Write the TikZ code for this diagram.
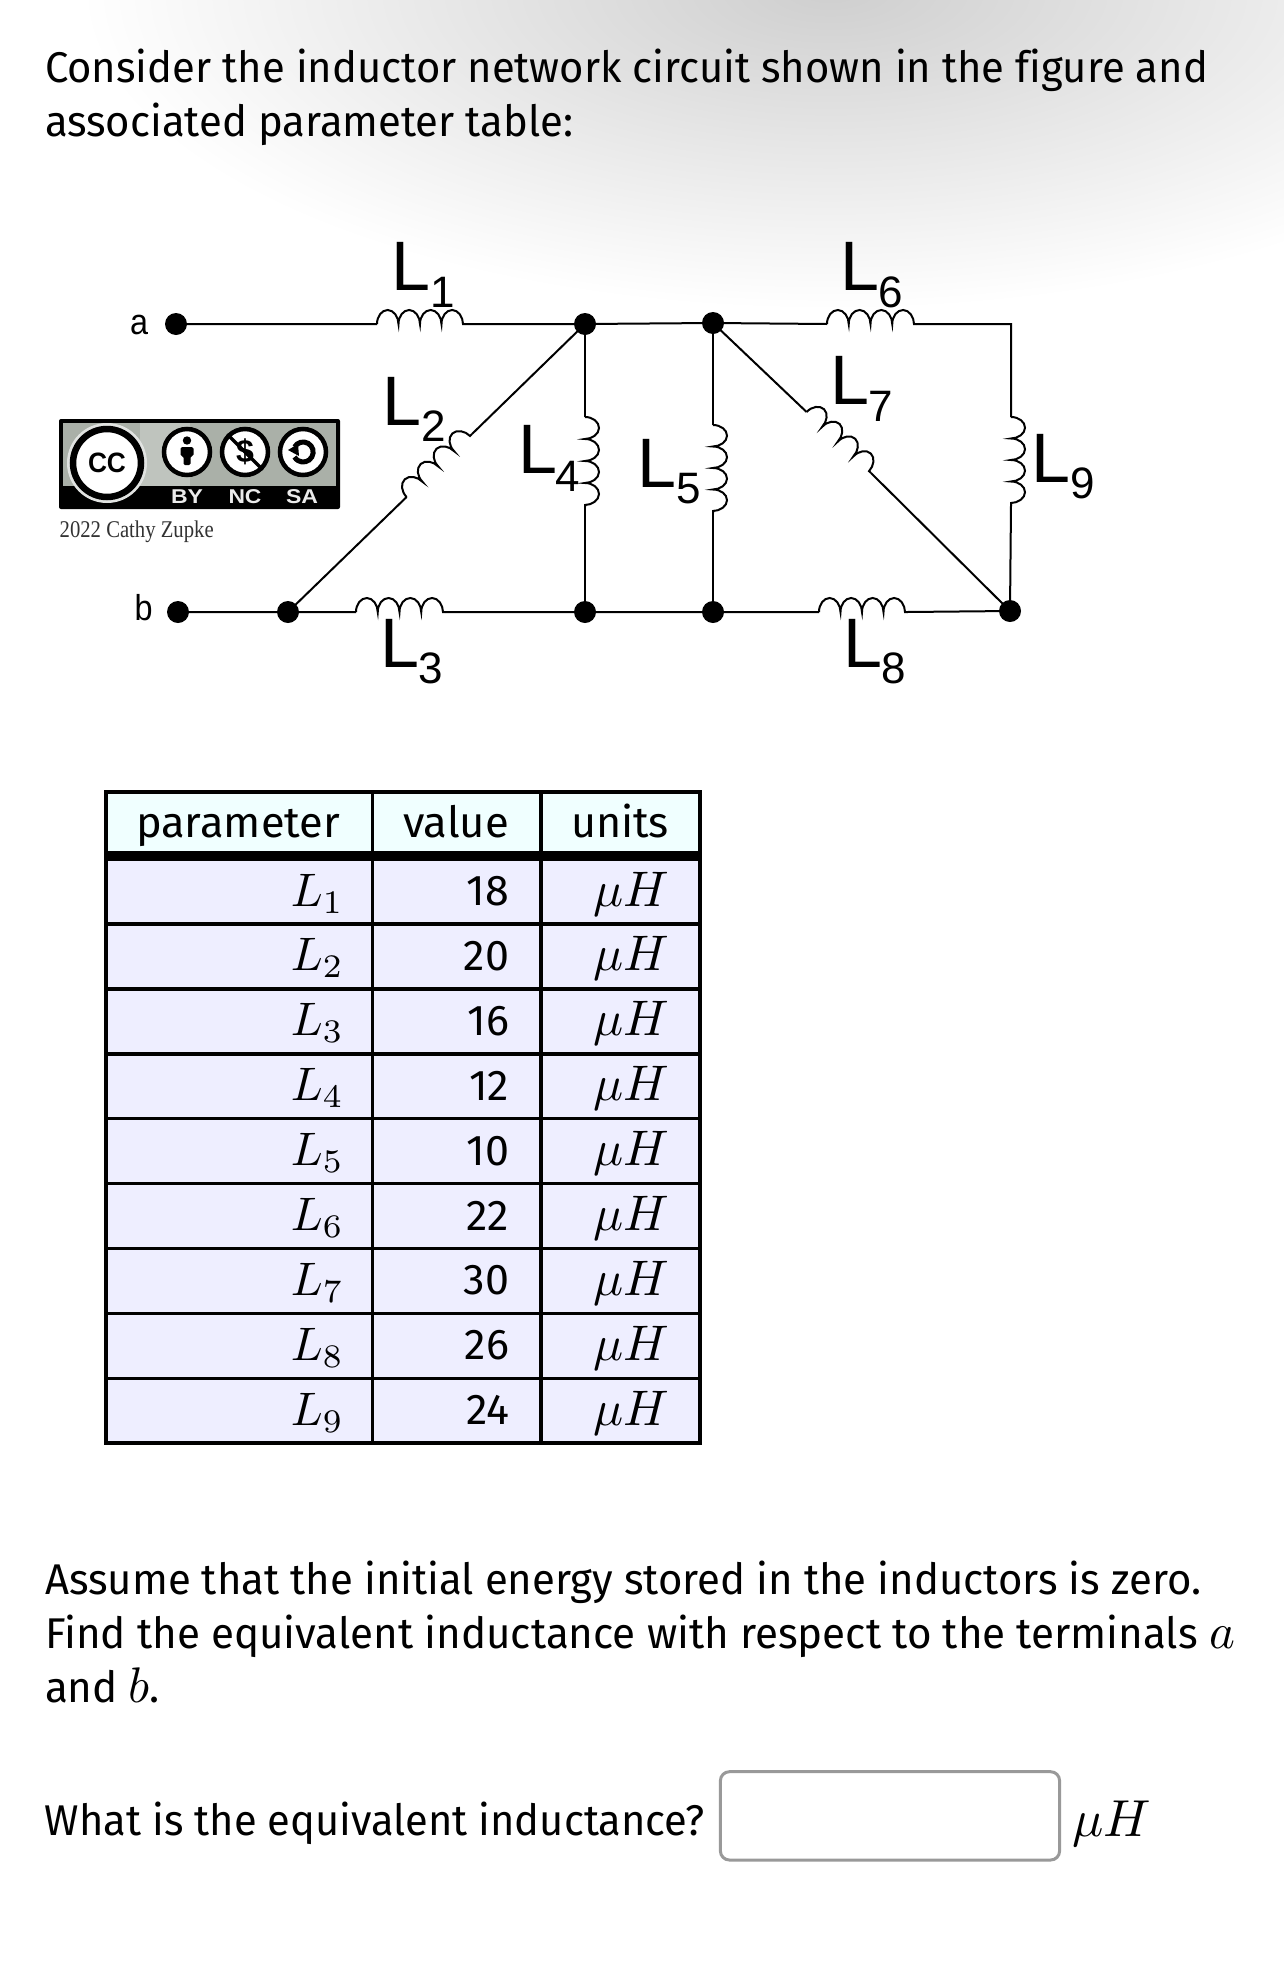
\RequirePackage{fix-cm}
\documentclass[tikz,border=0pt]{standalone}
\usepackage[no-math]{fontspec}
\usepackage{graphicx}
\setmainfont{Fira Sans}[Ligatures=NoCommon]
\newfontfamily\lblfont{Liberation Sans}
\newcommand{\lblboldfont}{\lblfont\bfseries}
\newfontfamily\serfont{Liberation Serif}
\usetikzlibrary{decorations.pathmorphing,calc}
\DeclareFontShape{OML}{cmm}{m}{it}{<->cmmi10}{}
\DeclareFontShape{OT1}{cmr}{m}{n}{<->cmr7}{}
\newcommand{\fitw}[2]{\resizebox{#1pt}{\height}{#2}}
\definecolor{hdrfill}{HTML}{F0FFFF}
\definecolor{rowfill}{HTML}{EEEEFF}
\definecolor{badgegray}{HTML}{AAB0A8}
\tikzset{
 txt/.style={anchor=base west,inner sep=0pt,outer sep=0pt,font=\fontsize{43}{54}\selectfont},
 rtxt/.style={anchor=base east,inner sep=0pt,outer sep=0pt,font=\fontsize{43}{54}\selectfont},
 mtxt/.style={anchor=base east,inner sep=0pt,outer sep=0pt,font=\fontsize{50}{54}\selectfont},
 ltxt/.style={anchor=base east,inner sep=0pt,outer sep=0pt,font=\fontsize{47}{54}\selectfont},
 lbl/.style={anchor=base west,inner sep=0pt,outer sep=0pt,font=\lblfont\fontsize{70}{70}\selectfont},
 sub/.style={anchor=base west,inner sep=0pt,outer sep=0pt,font=\lblfont\fontsize{44}{44}\selectfont},
 term/.style={anchor=base west,inner sep=0pt,outer sep=0pt,font=\lblfont\fontsize{36}{36}\selectfont},
 dot/.style={circle,fill=black,draw=none,inner sep=0pt,minimum size=22pt},
 wire/.style={line width=2pt,black},
 grid/.style={line width=3.4pt,black},
 coilh/.style={line width=2pt,black,decorate,decoration={bumps,segment length=#1,amplitude=14pt}},
 badgetxt/.style={anchor=base,inner sep=0pt,outer sep=0pt,text=black!8,font=\lblboldfont\fontsize{20}{20}\selectfont},
 iconring/.style={circle,fill=white,draw=black,line width=4.5pt,inner sep=0pt,minimum size=46pt},
}
\begin{document}
\begin{tikzpicture}[x=1pt,y=-1pt]
\useasboundingbox (0,0) rectangle (1284,1978);
\fill[white] (0,0) rectangle (1284,1978);
% soft grey background
\begin{scope}
\clip (0,0) rectangle (1284,1978);
\shade[inner color=black!19,outer color=white] (830-750,-10-320) rectangle (830+750,-10+320);
\end{scope}
% texts
\node[txt] (t1) at (45,82.7) {\fitw{1163}{Consider the inductor network circuit shown in the figure and}};
\node[txt] (t2) at (45,136) {\fitw{528}{associated parameter table:}};
\node[txt] (t3) at (45,1594) {\fitw{1156}{Assume that the initial energy stored in the inductors is zero.}};
\node[txt] (t4) at (45,1648) {\fitw{1190}{Find the equivalent inductance with respect to the terminals {\fontsize{50}{54}\selectfont$a$}}};
\node[txt] (t5) at (45,1702.7) {\fitw{115}{and {\fontsize{50}{54}\selectfont$b$}.}};
\node[txt] (t6) at (45,1835) {\fitw{660}{What is the equivalent inductance?}};
\draw[line width=3pt,black!40,rounded corners=9pt] (720.4,1771.7) rectangle (1059.6,1860);
\node[txt,font=\fontsize{52}{54}\selectfont] (unit) at (1072.5,1836.7) {$\mu H$};
% circuit nodes
\node[dot] (a) at (176,324) {};
\node[dot] (b) at (178,612) {};
\node[dot] (j) at (288,612) {};
\node[dot] (t) at (585,324) {};
\node[dot] (u) at (585,612) {};
\node[dot] (v) at (713,323) {};
\node[dot] (w) at (713,612) {};
\node[dot] (z) at (1010,611) {};
\coordinate (corner) at (1011,324);
\coordinate (p1) at (377,324); \coordinate (q1) at (465,324);
\coordinate (p2) at (406.6,497); \coordinate (q2) at (472,434);
\coordinate (p3) at (356,612); \coordinate (q3) at (445,612);
\coordinate (p4) at (585,417); \coordinate (q4) at (585,507);
\coordinate (p5) at (713,425); \coordinate (q5) at (713,513);
\coordinate (p6) at (827,324); \coordinate (q6) at (916,324);
\coordinate (p7) at (806.6,412); \coordinate (q7) at (871,473);
\coordinate (p8) at (819,612); \coordinate (q8) at (907,612);
\coordinate (p9) at (1011,417); \coordinate (q9) at (1011,505);
\draw[wire] (a.center)--(p1) (q1)--(t.center) (t.center)--(v.center) (v.center)--(p6) (q6)--(corner)--(p9) (q9)--(z.center);
\draw[wire] (b.center)--(j.center)--(p3) (q3)--(u.center)--(w.center)--(p8) (q8)--(z.center);
\draw[wire] (j.center)--(p2) (q2)--(t.center);
\draw[wire] (t.center)--(p4) (q4)--(u.center);
\draw[wire] (v.center)--(p5) (q5)--(w.center);
\draw[wire] (v.center)--(p7) (q7)--(z.center);
\draw[coilh=43pt] (p1)--(q1);
\draw[coilh=44pt] (p2)--(q2);
\draw[coilh=43.5pt] (p3)--(q3);
\draw[coilh=44pt] (p4)--(q4);
\draw[coilh=43pt] (p5)--(q5);
\draw[coilh=43.5pt] (p6)--(q6);
\draw[coilh=43pt] (p7)--(q7);
\draw[coilh=43pt] (p8)--(q8);
\draw[coilh=43pt] (p9)--(q9);
% circuit labels
\node[term] (la) at (130,334) {\fitw{18}{a}};
\node[term] (lb) at (134.5,620.7) {\fitw{18}{b}};
\node[lbl] (l1) at (391,290) {L}; \node[sub] (s1) at (430,307) {1};
\node[lbl] (l2) at (382.5,425) {L}; \node[sub] (s2) at (421,441) {2};
\node[lbl] (l3) at (380.6,667) {L}; \node[sub] (s3) at (418,683) {3};
\node[lbl] (l4) at (518,473) {L}; \node[sub] (s4) at (555,491) {4};
\node[lbl] (l5) at (637,487) {L}; \node[sub] (s5) at (676.5,503) {5};
\node[lbl] (l6) at (840.5,290) {L}; \node[sub] (s6) at (878.6,307) {6};
\node[lbl] (l7) at (830,404) {L}; \node[sub] (s7) at (868,421) {7};
\node[lbl] (l8) at (843,667) {L}; \node[sub] (s8) at (881,683) {8};
\node[lbl] (l9) at (1031.6,482) {L}; \node[sub] (s9) at (1070,498) {9};
% licence badge
\fill[black,rounded corners=2pt] (59,419) rectangle (340,509);
\fill[badgegray] (63,423) rectangle (336,486);
\fill[white!25!badgegray] (140,423) rectangle (190,486);
\fill[black] (63,486) rectangle (147,505);
\node[circle,fill=white!65!badgegray,inner sep=0pt,minimum size=80pt] (ccbg) at (107,463) {};
\node[circle,fill=white,draw=black,line width=6.5pt,inner sep=0pt,minimum size=68pt] (cc) at (107,463) {};
\node[inner sep=0pt,font=\lblboldfont\fontsize{28}{28}\selectfont] (cct) at (107,463) {\fitw{38}{CC}};
\node[iconring] (by) at (187,452) {};
\node[iconring] (nc) at (245,452) {};
\node[iconring] (sa) at (303,452) {};
\fill[black] (187,440.5) circle (4.2pt);
\fill[black,rounded corners=1.5pt] (180.5,447) -- (193.5,447) -- (193.5,456) -- (190.5,456) -- (190.5,465) -- (183.5,465) -- (183.5,456) -- (180.5,456) -- cycle;
\node[inner sep=0pt,font=\lblboldfont\fontsize{32}{32}\selectfont] (dollar) at (245,452) {\$};
\draw[line width=3.5pt,black] (nc.135) -- (nc.-45);
\draw[line width=5pt,black] (294.5,447) arc (150:-150:10pt);
\fill[black] (288,450) -- (298,444) -- (299,456) -- cycle;
\node[badgetxt] (bt1) at (187,503) {\fitw{32}{BY}};
\node[badgetxt] (bt2) at (245,503) {\fitw{33}{NC}};
\node[badgetxt] (bt3) at (302,503) {\fitw{32}{SA}};
\node[anchor=base west,inner sep=0pt,text=black!80,font=\serfont\fontsize{24}{24}\selectfont] (copy) at (59.5,537) {\fitw{154}{2022 Cathy Zupke}};
% table
\fill[hdrfill] (106,792) rectangle (700,856);
\fill[rowfill] (106,856) rectangle (700,1443);
\foreach \k in {0,...,7} {\draw[grid] (106,924+64.9*\k) -- (700,924+64.9*\k);}
\draw[line width=10pt,black] (106,856) -- (700,856);
\draw[grid] (106,792) rectangle (700,1443);
\draw[grid] (372.5,792) -- (372.5,1443);
\draw[grid] (541,792) -- (541,1443);
\node[txt] (h1) at (136,837.7) {\fitw{204}{parameter}};
\node[txt] (h2) at (403,837.7) {\fitw{106}{value}};
\node[txt] (h3) at (571,837.7) {\fitw{98}{units}};
\foreach \k/\n/\val in {0/1/18,1/2/20,2/3/16,3/4/12,4/5/10,5/6/22,6/7/30,7/8/26,8/9/24} {
 \node[ltxt] (par\n) at (342,906+64.9*\k) {$L_\n$};
 \node[rtxt] (val\n) at (509,905.5+64.9*\k) {\val};
 \node[mtxt] (uni\n) at (669,906+64.9*\k) {$\mu H$};
}
\end{tikzpicture}
\end{document}
